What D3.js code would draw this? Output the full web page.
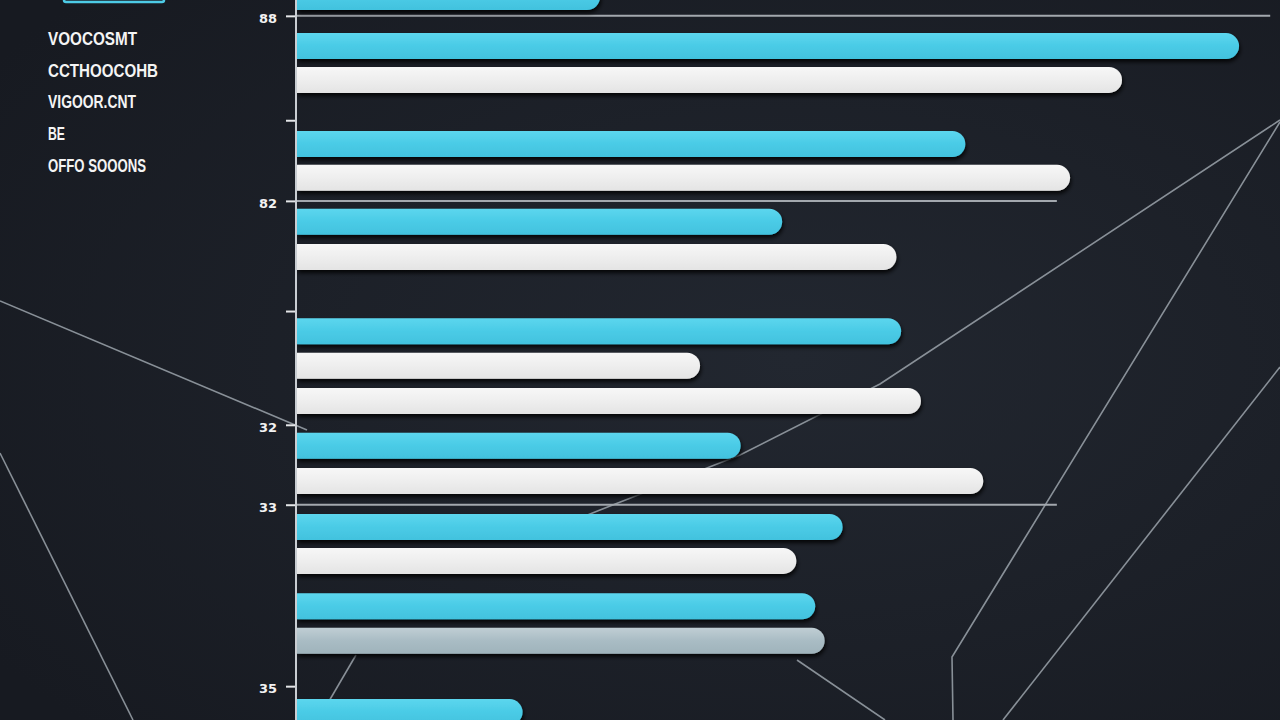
<!DOCTYPE html>
<html>
<head>
<meta charset="utf-8">
<script src="https://cdn.jsdelivr.net/npm/d3@7"></script>
<style>
  html, body { margin: 0; padding: 0; background: #1b1f27; }
  svg { display: block; }
</style>
</head>
<body>
<svg id="chart" width="1280" height="720"></svg>
<script>
// ---------------- DATA ----------------
const legendLabels = ["VOOCOSMT", "CCTHOOCOHB", "VIGOOR.CNT", "BE", "OFFO SOOONS"];

// row position of each bar along the vertical value axis (axis units 0-100)
const rowPositions = [-0.4, 6.4, 11.1, 20.0, 24.7, 30.8, 35.7, 46.0, 50.8, 55.7, 61.9, 66.8, 73.2, 77.9, 84.2, 89.0, 98.9];
// bar lengths (horizontal value, 0-100)
const barValues    = [32.2, 99.9, 87.5, 70.9, 82.0, 51.5, 63.6, 64.1, 42.8, 66.2, 47.1, 72.8, 57.9, 53.0, 55.0, 56.0, 24.0];
// series of each bar
const barSeries    = ["A", "A", "B", "A", "B", "A", "B", "A", "B", "B", "A", "B", "A", "B", "A", "C", "A"];

// vertical axis ticks
const tickValues = [2.2, 16.7, 27.9, 43.2, 59.0, 70.1, 95.3];
const tickLabels = ["88", "", "82", "", "32", "33", "35"];
// gridlines: which tick and how far (in horizontal value units)
const gridTicks = [2.2, 27.9, 70.1];
const gridEnds  = [103.2, 80.6, 80.6];

// ---------------- STYLE ----------------
const W = 1280, H = 720;
const axisX = 296;
const seriesColor = { A: "url(#gCyan)", B: "url(#gWhite)", C: "url(#gGrey)" };
const barH = 26;

const svg = d3.select("#chart");
const defs = svg.append("defs");

const bg = defs.append("radialGradient").attr("id", "bg")
  .attr("cx", "62%").attr("cy", "50%").attr("r", "75%");
bg.append("stop").attr("offset", "0%").attr("stop-color", "#222730");
bg.append("stop").attr("offset", "100%").attr("stop-color", "#171a21");

function vgrad(id, stops) {
  const g = defs.append("linearGradient").attr("id", id)
    .attr("x1", 0).attr("y1", 0).attr("x2", 0).attr("y2", 1);
  stops.forEach(s => g.append("stop").attr("offset", s[0]).attr("stop-color", s[1]));
}
vgrad("gCyan", [["0%", "#5cd6ee"], ["50%", "#4acbe6"], ["100%", "#42c2de"]]);
vgrad("gWhite", [["0%", "#f7f7f7"], ["50%", "#eeeeee"], ["100%", "#e4e4e4"]]);
vgrad("gGrey", [["0%", "#c0ced4"], ["50%", "#a9bcc4"], ["100%", "#9fb3bb"]]);

const f = defs.append("filter").attr("id", "shadow")
  .attr("x", "-5%").attr("y", "-60%").attr("width", "110%").attr("height", "220%");
f.append("feDropShadow").attr("dx", 1).attr("dy", 3).attr("stdDeviation", 2)
  .attr("flood-color", "#000").attr("flood-opacity", 0.85);

svg.append("rect").attr("width", W).attr("height", H).attr("fill", "url(#bg)");

// scales
const x = d3.scaleLinear().domain([0, 100]).range([axisX, 1240]);
const y = d3.scaleLinear().domain([0, 100]).range([0, 720]);

// decorative background lines
const deco = [
  [[1280, 120], [880, 384], [740, 455], [600, 510], [560, 526]],
  [[1280, 122], [952, 657], [953, 720]],
  [[1280, 367], [1003, 720]],
  [[0, 301], [307, 430]],
  [[0, 453], [133, 720]],
  [[356, 655], [318, 720]],
  [[797, 660], [885, 720]]
];
const lineGen = d3.line();
svg.append("g").selectAll("path").data(deco).join("path")
  .attr("d", lineGen)
  .attr("fill", "none")
  .attr("stroke", "#959ca4")
  .attr("stroke-width", 1.6)
  .attr("opacity", 0.9);

// gridlines
svg.append("g").selectAll("line").data(gridTicks).join("line")
  .attr("x1", axisX).attr("x2", (d, i) => x(gridEnds[i]))
  .attr("y1", d => y(d)).attr("y2", d => y(d))
  .attr("stroke", "#a3a8ae").attr("stroke-width", 2);

// bars
const bars = rowPositions.map((p, i) => ({ pos: p, val: barValues[i], s: barSeries[i] }));
function barPath(d) {
  const x0 = axisX + 1, x1 = x(d.val);
  const yc = y(d.pos), y0 = yc - barH / 2, r = barH / 2;
  return `M${x0},${y0} H${x1 - r} A${r},${r} 0 0 1 ${x1 - r},${y0 + barH} H${x0} Z`;
}
svg.append("g").attr("filter", "url(#shadow)")
  .selectAll("path").data(bars).join("path")
  .attr("d", barPath)
  .attr("fill", d => seriesColor[d.s]);

// axis
const axis = d3.axisLeft(y)
  .tickValues(tickValues)
  .tickFormat((d, i) => tickLabels[i])
  .tickSize(10)
  .tickPadding(9);
const ag = svg.append("g").attr("transform", `translate(${axisX},0)`).call(axis);
ag.select(".domain").remove();
ag.selectAll(".tick line").attr("stroke", "#e4e6e8").attr("stroke-width", 2);
ag.selectAll(".tick text")
  .attr("fill", "#f2f2f2")
  .attr("font-family", "DejaVu Sans, sans-serif")
  .attr("font-weight", "bold")
  .attr("font-size", 13)
  .attr("dy", "0.5em");
svg.append("line")
  .attr("x1", axisX).attr("x2", axisX).attr("y1", 0).attr("y2", H)
  .attr("stroke", "#c9cdd2").attr("stroke-width", 2);

// legend box (partially off-canvas) and labels
svg.append("rect").attr("x", 64).attr("y", -30).attr("width", 100).attr("height", 32)
  .attr("rx", 2).attr("fill", "#1c2028").attr("stroke", "#4dcbe6").attr("stroke-width", 2.5);

const legendWidths = [89, 110, 88, 17, 98];
svg.append("g").selectAll("text").data(legendLabels).join("text")
  .attr("x", 48)
  .attr("y", (d, i) => 45 + i * 31.7)
  .attr("fill", "#f4f4f4")
  .attr("font-family", "Liberation Sans, Arial, sans-serif")
  .attr("font-weight", "bold")
  .attr("font-size", 18)
  .attr("textLength", (d, i) => legendWidths[i])
  .attr("lengthAdjust", "spacingAndGlyphs")
  .text(d => d);
</script>
</body>
</html>
